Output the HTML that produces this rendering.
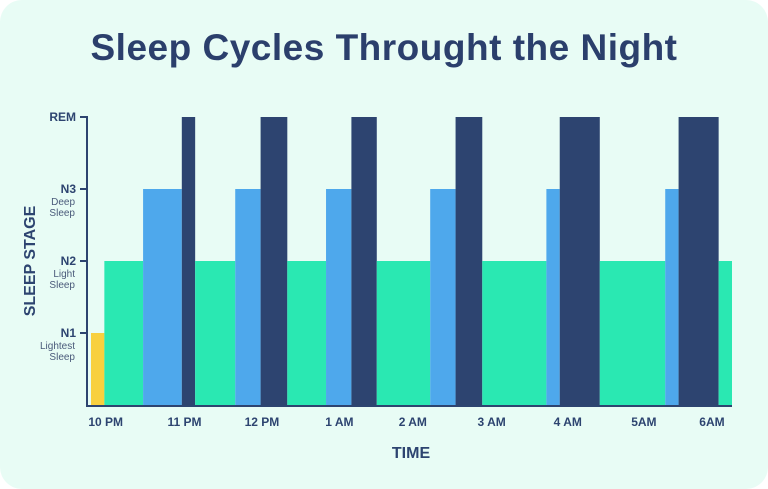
<!DOCTYPE html>
<html><head><meta charset="utf-8"><style>
html,body{margin:0;padding:0;background:#fff;}
#card{position:absolute;left:0;top:0;width:768px;height:489px;background:#e8fcf5;border-radius:22px;overflow:hidden;font-family:"Liberation Sans",sans-serif;}
h1{position:absolute;left:0;top:27px;width:768px;margin:0;text-align:center;font-size:37px;font-weight:bold;color:#2b3f6c;letter-spacing:0.5px;}
svg{position:absolute;left:0;top:0;}
</style></head><body>
<div id="card">
<h1>Sleep Cycles Throught the Night</h1>
<svg id="chart" width="768" height="489"></svg>
</div>
<script>
const segStart=[0,10,39,68,78,108,127,147,176,195,214,254,273,293,341,351,381,430,440,470];
const segEnd=[10,39,68,78,108,127,147,176,195,214,254,273,293,341,351,381,430,440,470,480];
const segStage=[1,2,3,4,2,3,4,2,3,4,2,3,4,2,3,4,2,3,4,2];
const timeLabels=["10 PM","11 PM","12 PM","1 AM","2 AM","3 AM","4 AM","5AM","6AM"];
const timeLabelMin=[11,70,128,186,241,300,357,414,465];
const stageNames=["N1","N2","N3","REM"];
const stageSub=[["Lightest","Sleep"],["Light","Sleep"],["Deep","Sleep"],[]];

const svg=document.getElementById('chart');
const NS='http://www.w3.org/2000/svg';
const x0=91,x1=732,tMax=480,yBase=405,yStep=72;
const xs=t=>x0+t*(x1-x0)/tMax;
const ys=s=>yBase-s*yStep;
const colors={1:'#f8d03f',2:'#2ae8b2',3:'#4ea8ec',4:'#2d4470'};
const navy='#2d4470';
function mk(tag,attrs){const e=document.createElementNS(NS,tag);for(const k in attrs)e.setAttribute(k,attrs[k]);svg.appendChild(e);return e;}

for(let i=0;i<segStart.length;i++){
  const r=mk('rect',{x:xs(segStart[i]),y:ys(segStage[i]),width:xs(segEnd[i])-xs(segStart[i]),height:yBase-ys(segStage[i]),fill:colors[segStage[i]]});
  
  
}
const ya=mk('line',{x1:87,y1:116,x2:87,y2:yBase+1,stroke:navy,'stroke-width':2});


const xa=mk('line',{x1:86,y1:yBase+1,x2:x1,y2:yBase+1,stroke:navy,'stroke-width':2});



for(let s=1;s<=4;s++){
  const y=ys(s);
  const tk=mk('line',{x1:80,y1:y,x2:87,y2:y,stroke:navy,'stroke-width':2});
  
  
  const t=mk('text',{x:76,y:y+4,'text-anchor':'end','font-size':12,'font-weight':'bold',fill:navy});
  t.textContent=stageNames[s-1];
  
  
  stageSub[s-1].forEach((w,j)=>{
    const st=mk('text',{x:75,y:y+16+j*11,'text-anchor':'end','font-size':10,fill:'#4a5a7a'});
    st.textContent=w;
    
    
  });
}
for(let i=0;i<timeLabels.length;i++){
  const t=mk('text',{x:xs(timeLabelMin[i]),y:426,'text-anchor':'middle','font-size':12,'font-weight':'bold',fill:navy});
  t.textContent=timeLabels[i];
  
  
}
const xt=mk('text',{x:411,y:458,'text-anchor':'middle','font-size':16,'font-weight':'bold',fill:navy});
xt.textContent='TIME';


const yt=mk('text',{x:0,y:0,'text-anchor':'middle','font-size':16,'font-weight':'bold',fill:navy,transform:'translate(35,261) rotate(-90)'});
yt.textContent='SLEEP STAGE';


</script>
</body></html>
